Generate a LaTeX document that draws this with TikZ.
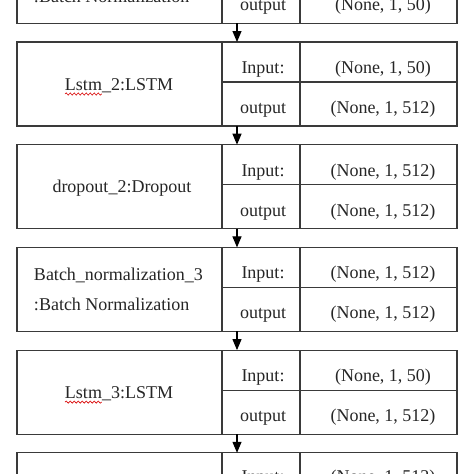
\documentclass[tikz,border=0pt]{standalone}
\usepackage{fontspec}
\setmainfont{Liberation Serif}
\usetikzlibrary{calc,arrows.meta,decorations.pathmorphing}
\definecolor{ln}{HTML}{3A3A3A}
\definecolor{tx}{HTML}{262626}
\tikzset{
  cell/.style={draw=ln, line width=1.1pt, rectangle, inner sep=0pt, outer sep=0pt, anchor=north west},
  txt/.style={inner sep=0pt, outer sep=0pt, anchor=base, text=tx, font=\fontsize{18}{22}\selectfont},
  txtl/.style={txt, anchor=base west},
  arr/.style={draw=black, line width=1.1pt, -{Triangle[width=9pt,length=11pt]}},
  wavy/.style={draw=red!85!black, line width=0.6pt, decorate, decoration={snake, amplitude=1.1pt, segment length=4pt}}
}
% name, top y
\newcommand\mkblk[2]{%
  \node[cell, minimum width=205pt, minimum height=84pt] (#1L) at (17,#2) {};
  \node[cell, minimum width=78pt, minimum height=40pt] (#1I) at (222,#2) {};
  \node[cell, minimum width=78pt, minimum height=44pt] (#1O) at (#1I.south west) {};
  \node[cell, minimum width=157pt, minimum height=40pt] (#1IV) at (#1I.north east) {};
  \node[cell, minimum width=157pt, minimum height=44pt] (#1OV) at (#1O.north east) {};
}
\begin{document}
\begin{tikzpicture}[x=1pt, y=-1pt]
\path[use as bounding box, clip] (0,0) rectangle (474,474);
\fill[white] (0,0) rectangle (474,474);

% block 0 (cut off at top)
\mkblk{a}{-60.7}
\node[txtl] (aL2) at ($(aL.north west)+(17,63.3)$) {:Batch Normalization};
\node[txt] (aOt) at ($(aO.north west)+(41,31.5)$) {output};
\node[txt] (aOv) at ($(aOV.north west)+(83,31.5)$) {(None, 1, 50)};

% block 1
\mkblk{b}{42}
\node[txt] (bLt) at ($(bL.north west)+(102,48)$) {Lstm\_2:LSTM};
\draw[wavy] ($(bLt.base west)+(0,4)$) -- ++(37,0);
\node[txt] (bIt) at ($(bI.north west)+(41,31.5)$) {Input:};
\node[txt] (bIv) at ($(bIV.north west)+(83,31.5)$) {(None, 1, 50)};
\node[txt] (bOt) at ($(bO.north west)+(41,31.5)$) {output};
\node[txt] (bOv) at ($(bOV.north west)+(83,31.5)$) {(None, 1, 512)};

% block 2
\mkblk{c}{144.7}
\node[txt] (cLt) at ($(cL.north west)+(105,48)$) {dropout\_2:Dropout};
\node[txt] (cIt) at ($(cI.north west)+(41,31.5)$) {Input:};
\node[txt] (cIv) at ($(cIV.north west)+(83,31.5)$) {(None, 1, 512)};
\node[txt] (cOt) at ($(cO.north west)+(41,31.5)$) {output};
\node[txt] (cOv) at ($(cOV.north west)+(83,31.5)$) {(None, 1, 512)};

% block 3
\mkblk{d}{247.4}
\node[txtl] (dL1) at ($(dL.north west)+(17,33.3)$) {Batch\_normalization\_3};
\node[txtl] (dL2) at ($(dL.north west)+(17,63.3)$) {:Batch Normalization};
\node[txt] (dIt) at ($(dI.north west)+(41,31.5)$) {Input:};
\node[txt] (dIv) at ($(dIV.north west)+(83,31.5)$) {(None, 1, 512)};
\node[txt] (dOt) at ($(dO.north west)+(41,31.5)$) {output};
\node[txt] (dOv) at ($(dOV.north west)+(83,31.5)$) {(None, 1, 512)};

% block 4
\mkblk{e}{350.1}
\node[txt] (eLt) at ($(eL.north west)+(102,48)$) {Lstm\_3:LSTM};
\draw[wavy] ($(eLt.base west)+(0,4)$) -- ++(37,0);
\node[txt] (eIt) at ($(eI.north west)+(41,31.5)$) {Input:};
\node[txt] (eIv) at ($(eIV.north west)+(83,31.5)$) {(None, 1, 50)};
\node[txt] (eOt) at ($(eO.north west)+(41,31.5)$) {output};
\node[txt] (eOv) at ($(eOV.north west)+(83,31.5)$) {(None, 1, 512)};

% block 5 (cut off at bottom)
\mkblk{f}{452.8}
\node[txt] (fIt) at ($(fI.north west)+(41,30)$) {Input:};
\node[txt] (fIv) at ($(fIV.north west)+(83,30)$) {(None, 1, 512)};

% arrows
\draw[arr] ($(aO.south west)+(15,0)$) -- ($(bI.north west)+(15,0)$);
\draw[arr] ($(bO.south west)+(15,0)$) -- ($(cI.north west)+(15,0)$);
\draw[arr] ($(cO.south west)+(15,0)$) -- ($(dI.north west)+(15,0)$);
\draw[arr] ($(dO.south west)+(15,0)$) -- ($(eI.north west)+(15,0)$);
\draw[arr] ($(eO.south west)+(15,0)$) -- ($(fI.north west)+(15,0)$);
\end{tikzpicture}
\end{document}
